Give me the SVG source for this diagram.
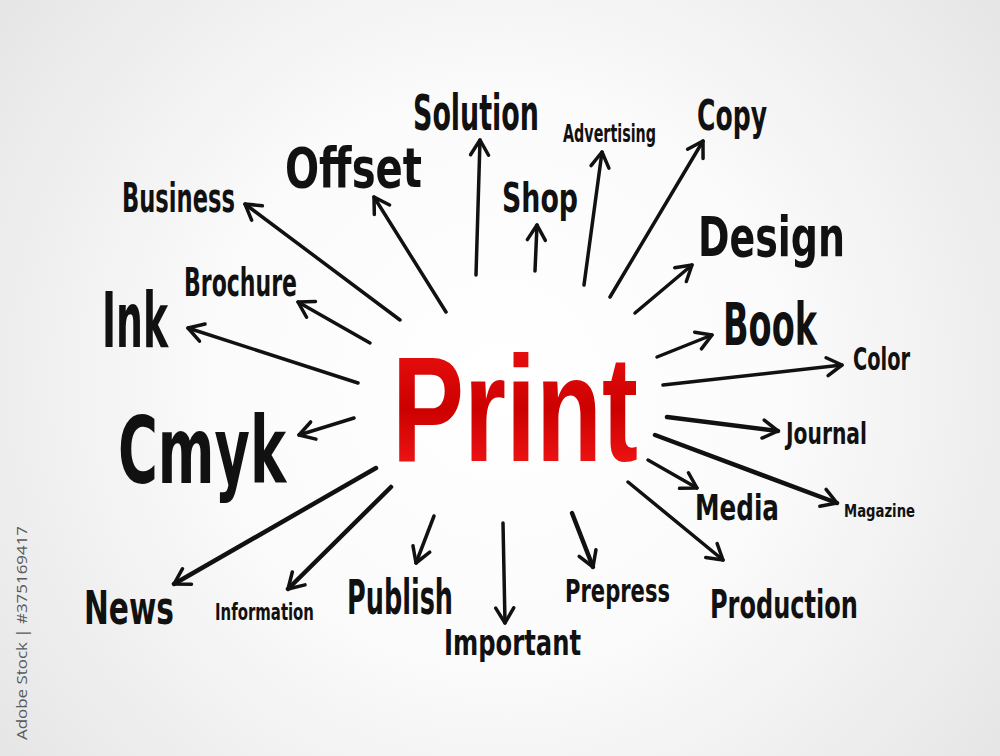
<svg xmlns="http://www.w3.org/2000/svg" width="1000" height="756" viewBox="0 0 1000 756">
<defs>
<radialGradient id="bg" cx="500" cy="380" r="620" gradientUnits="userSpaceOnUse">
<stop offset="0" stop-color="#ffffff"/>
<stop offset="0.45" stop-color="#fbfbfb"/>
<stop offset="1" stop-color="#e6e6e6"/>
</radialGradient>
<linearGradient id="red" x1="0" y1="0" x2="0" y2="1">
<stop offset="0" stop-color="#f21414"/>
<stop offset="0.5" stop-color="#cc0000"/>
<stop offset="1" stop-color="#ff1e1e"/>
</linearGradient>
<marker id="ah" markerUnits="userSpaceOnUse" markerWidth="28" markerHeight="26" refX="20" refY="13" orient="auto" overflow="visible">
<path d="M5,4 L20,13 L5,22" fill="none" stroke="#111" stroke-width="3.5" stroke-linecap="round" stroke-linejoin="round"/>
</marker>
</defs>
<style>
.t{font-family:"Liberation Sans Narrow","DejaVu Sans Condensed","Liberation Sans",sans-serif;font-weight:bold;fill:#111}
.c line{stroke:#111;stroke-width:3.5;stroke-linecap:round;marker-end:url(#ah)}
.c line.k{stroke-width:4.5}
</style>
<rect width="1000" height="756" fill="url(#bg)"/>
<g id="connectors" class="c">
<line x1="400" y1="320" x2="245" y2="204"/>
<line x1="446" y1="312" x2="374" y2="197"/>
<line x1="370" y1="343" x2="298" y2="302"/>
<line x1="358" y1="383" x2="188" y2="328"/>
<line x1="476" y1="275" x2="480" y2="140"/>
<line x1="535" y1="271" x2="537" y2="225"/>
<line x1="584" y1="285" x2="602" y2="152"/>
<line x1="610" y1="297" x2="703" y2="141"/>
<line x1="635" y1="313" x2="692" y2="265"/>
<line x1="657" y1="357" x2="712" y2="335"/>
<line x1="663" y1="385" x2="842" y2="365"/>
<line class="k" x1="667" y1="417" x2="778" y2="431"/>
<line class="k" x1="655" y1="435" x2="837" y2="503"/>
<line x1="648" y1="460" x2="697" y2="488"/>
<line x1="628" y1="482" x2="723" y2="560"/>
<line x1="354" y1="418" x2="299" y2="435"/>
<line class="k" x1="376" y1="468" x2="174" y2="584"/>
<line class="k" x1="391" y1="487" x2="288" y2="589"/>
<line x1="434" y1="516" x2="416" y2="563"/>
<line x1="503" y1="523" x2="505" y2="623"/>
<line class="k" x1="572" y1="513" x2="593" y2="567"/>
</g>
<g id="print"><text x="392" y="461" font-size="150" textLength="246" lengthAdjust="spacingAndGlyphs" style="font-family:'Liberation Sans Narrow','Liberation Sans',sans-serif;font-weight:bold" fill="url(#red)">Print</text></g>
<g id="business"><text class="t" x="122" y="212" font-size="40" textLength="113" lengthAdjust="spacingAndGlyphs">Business</text></g>
<g id="offset"><text class="t" x="285" y="187" font-size="56" textLength="137" lengthAdjust="spacingAndGlyphs">Offset</text></g>
<g id="solution"><text class="t" transform="translate(413 130) scale(1 1.32)" x="0" y="0" font-size="38" textLength="126" lengthAdjust="spacingAndGlyphs">Solution</text></g>
<g id="advertising"><text class="t" x="563" y="142" font-size="25" textLength="93" lengthAdjust="spacingAndGlyphs">Advertising</text></g>
<g id="copy"><text class="t" x="697" y="130" font-size="42" textLength="70" lengthAdjust="spacingAndGlyphs">Copy</text></g>
<g id="shop"><text class="t" x="502" y="212" font-size="40" textLength="76" lengthAdjust="spacingAndGlyphs">Shop</text></g>
<g id="design"><text class="t" x="698" y="256" font-size="56" textLength="147" lengthAdjust="spacingAndGlyphs">Design</text></g>
<g id="book"><text class="t" x="723" y="345" font-size="58" textLength="94" lengthAdjust="spacingAndGlyphs">Book</text></g>
<g id="color"><text class="t" x="853" y="370" font-size="32" textLength="57" lengthAdjust="spacingAndGlyphs">Color</text></g>
<g id="journal"><text class="t" x="786" y="444" font-size="30" textLength="81" lengthAdjust="spacingAndGlyphs">Journal</text></g>
<g id="magazine"><text class="t" x="844" y="517" font-size="18" textLength="71" lengthAdjust="spacingAndGlyphs">Magazine</text></g>
<g id="media"><text class="t" x="695" y="520" font-size="35" textLength="84" lengthAdjust="spacingAndGlyphs">Media</text></g>
<g id="production"><text class="t" x="710" y="618" font-size="39" textLength="148" lengthAdjust="spacingAndGlyphs">Production</text></g>
<g id="prepress"><text class="t" x="565" y="602" font-size="32" textLength="105" lengthAdjust="spacingAndGlyphs">Prepress</text></g>
<g id="important"><text class="t" x="444" y="655" font-size="36" textLength="137" lengthAdjust="spacingAndGlyphs">Important</text></g>
<g id="publish"><text class="t" x="347" y="614" font-size="48" textLength="106" lengthAdjust="spacingAndGlyphs">Publish</text></g>
<g id="information"><text class="t" x="215" y="620" font-size="23" textLength="99" lengthAdjust="spacingAndGlyphs">Information</text></g>
<g id="news"><text class="t" x="84" y="624" font-size="46" textLength="90" lengthAdjust="spacingAndGlyphs">News</text></g>
<g id="cmyk"><text class="t" x="118" y="483" font-size="92" textLength="168" lengthAdjust="spacingAndGlyphs">Cmyk</text></g>
<g id="ink"><text class="t" transform="translate(102 347) scale(1 1.36)" x="0" y="0" font-size="56" textLength="66" lengthAdjust="spacingAndGlyphs">Ink</text></g>
<g id="brochure"><text class="t" x="184" y="296" font-size="39" textLength="113" lengthAdjust="spacingAndGlyphs">Brochure</text></g>
<text x="27" y="740" transform="rotate(-90 27 740)" font-size="15" textLength="214" lengthAdjust="spacingAndGlyphs" style="font-family:'Open Sans','Liberation Sans',sans-serif" fill="#5a5a5a">Adobe Stock | #375169417</text>
</svg>
